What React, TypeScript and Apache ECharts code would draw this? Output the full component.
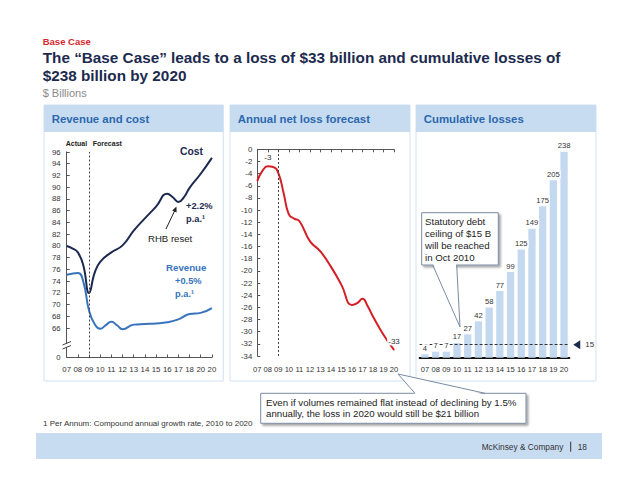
import React, { useEffect, useRef } from 'react';
import * as echarts from 'echarts';

const FONT = '"Liberation Sans", Arial, Helvetica, sans-serif';

// ---- Data ----
const yearLabels = ['07', '08', '09', '10', '11', '12', '13', '14', '15', '16', '17', '18', '19', '20'];
const leftTickLabels = ['07', '08', '09', '10', '11', '12', '13', '14', '15', '16', '17', '18', '20', '20'];
const leftYTicks = [61, 66, 68, 70, 72, 74, 76, 78, 80, 82, 84, 86, 88, 90, 92, 94, 96];

const costYears = [2007, 2007.5, 2008, 2008.5, 2009, 2009.5, 2010, 2011, 2012, 2013, 2014, 2015, 2016, 2016.5, 2017, 2017.5, 2018, 2019, 2020];
const costValues = [80, 79.6, 78.9, 76.6, 72, 75.4, 77.3, 78.9, 80.1, 82.6, 84.7, 86.7, 88.9, 88.3, 87.5, 88.3, 89.9, 92.3, 95];

const revenueYears = [2007, 2008, 2008.5, 2009, 2009.5, 2010, 2010.5, 2011, 2011.5, 2012, 2013, 2014, 2015, 2016, 2017, 2018, 2019, 2020];
const revenueValues = [75.1, 75.4, 73.8, 69.0, 66.7, 65.9, 66.5, 67.1, 66.5, 65.8, 66.6, 66.7, 66.8, 67.0, 67.5, 68.4, 68.6, 69.4];

const netLossYears = [2007, 2007.5, 2008, 2008.5, 2009, 2009.5, 2010, 2010.5, 2011, 2012, 2013, 2014, 2015, 2016, 2016.5, 2017, 2017.5, 2018, 2019, 2020];
const netLossValues = [-5.2, -3.5, -2.8, -2.9, -3.9, -7.2, -10.7, -11.4, -11.8, -15.1, -16.8, -19.3, -22.3, -25.6, -25.3, -24.6, -25.8, -27.5, -30.5, -33];
const netLossLabelYears = [2008, 2020];

const cumulativeLosses = [4, 7, 7, 17, 27, 42, 58, 77, 99, 125, 149, 175, 205, 238];
const debtCeiling = 15;

// ---- helpers ----
const txt = (text: string, x: number, y: number, size: number, color: string, weight: string = 'normal', align: string = 'left', extra: any = {}) => ({
  type: 'text',
  x,
  y,
  z: 50,
  style: {
    text,
    fill: color,
    fontSize: size,
    fontWeight: weight,
    fontFamily: FONT,
    align,
    textAlign: align,
    verticalAlign: 'middle',
    textVerticalAlign: 'middle',
    ...extra,
  },
});

const panels = [
  { x: 44, w: 179.3, title: 'Revenue and cost' },
  { x: 230, w: 180, title: 'Annual net loss forecast' },
  { x: 416, w: 180, title: 'Cumulative losses' },
];

const HEADER_BG = '#c8dcf1';
const HEADER_TEXT = '#2c68ae';
const NAVY = '#1d2a4f';
const BLUE = '#3874bd';
const RED = '#d42027';
const BOX_STROKE = '#7b8ba3';
const shadow = { shadowColor: 'rgba(0,0,0,0.35)', shadowOffsetX: 2, shadowOffsetY: 2, shadowBlur: 2 };

export default function App() {
  const ref = useRef<HTMLDivElement>(null);

  useEffect(() => {
    if (!ref.current) return;
    const chart = echarts.init(ref.current, undefined, { renderer: 'svg' });

    const graphics: any[] = [];
    panels.forEach((p) => {
      graphics.push({ type: 'rect', z: 0, shape: { x: p.x, y: 105, width: p.w, height: 276 }, style: { fill: '#fff', stroke: '#d3e2f1', lineWidth: 1 } });
      graphics.push({ type: 'rect', z: 0, shape: { x: p.x, y: 105, width: p.w, height: 27 }, style: { fill: HEADER_BG } });
      graphics.push(txt(p.title, p.x + 7.7, 119, 11.4, HEADER_TEXT, 'bold'));
    });

    // header texts
    graphics.push(txt('Base Case', 42.7, 41.7, 9.5, '#d9272e', 'bold'));
    graphics.push(txt('The \u201cBase Case\u201d leads to a loss of $33 billion and cumulative losses of', 42.7, 57.3, 15.3, NAVY, 'bold'));
    graphics.push(txt('$238 billion by 2020', 42.7, 75.7, 15.3, NAVY, 'bold'));
    graphics.push(txt('$ Billions', 42.7, 93.3, 11, '#8a8a8a'));

    // footer
    graphics.push({ type: 'rect', z: 0, shape: { x: 36, y: 433, width: 566, height: 26 }, style: { fill: HEADER_BG } });
    graphics.push(txt('McKinsey & Company', 563.3, 446.7, 8.3, '#333', 'normal', 'right'));
    graphics.push({ type: 'line', z: 50, shape: { x1: 570.7, y1: 441.7, x2: 570.7, y2: 451.7 }, style: { stroke: '#333', lineWidth: 1 } });
    graphics.push(txt('18', 577.7, 446.7, 8.3, '#333'));
    graphics.push(txt('1 Per Annum: Compound annual growth rate, 2010 to 2020', 43, 423.3, 8, '#333'));

    // left chart annotations
    graphics.push(txt('Actual', 65.7, 143, 7, '#222', 'bold'));
    graphics.push(txt('Forecast', 92.7, 143, 7, '#222', 'bold'));
    graphics.push(txt('Cost', 180, 151.5, 10.3, NAVY, 'bold'));
    graphics.push(txt('+2.2%', 186, 206, 9.3, NAVY, 'bold'));
    graphics.push(txt('p.a.\u00b9', 186, 219, 9.3, NAVY, 'bold'));
    graphics.push(txt('RHB reset', 148, 238, 9.6, '#222'));
    graphics.push({ type: 'line', z: 50, shape: { x1: 166, y1: 229, x2: 175, y2: 210 }, style: { stroke: '#222', lineWidth: 1 } });
    graphics.push({ type: 'polygon', z: 50, shape: { points: [[176.5, 206.5], [176.6, 212.6], [172.2, 210.5]] }, style: { fill: '#222' } });
    graphics.push(txt('Revenue', 166, 267, 9.7, BLUE, 'bold'));
    graphics.push(txt('+0.5%', 175, 281, 9.3, BLUE, 'bold'));
    graphics.push(txt('p.a.\u00b9', 175, 293.5, 9.3, BLUE, 'bold'));

    // axis break marks
    graphics.push({ type: 'rect', z: 40, shape: { x: 64, y: 344, width: 6, height: 3 }, style: { fill: '#fff' } });
    graphics.push({ type: 'line', z: 41, shape: { x1: 62.5, y1: 345, x2: 71, y2: 341.5 }, style: { stroke: '#444', lineWidth: 1 } });
    graphics.push({ type: 'line', z: 41, shape: { x1: 62.5, y1: 349, x2: 71, y2: 345.5 }, style: { stroke: '#444', lineWidth: 1 } });

    // statutory callout
    graphics.push({ type: 'rect', z: 100, shape: { x: 421.7, y: 212.7, width: 76.6, height: 52.3 }, style: { fill: '#fff', stroke: BOX_STROKE, lineWidth: 1, ...shadow } });
    graphics.push({ type: 'polygon', z: 101, shape: { points: [[433.2, 264], [460, 327], [456.2, 264]] }, style: { fill: '#fff' } });
    graphics.push({ type: 'polyline', z: 102, shape: { points: [[432.7, 265], [460, 327], [456.7, 265]] }, style: { stroke: BOX_STROKE, lineWidth: 1, fill: null } });
    graphics.push({
      type: 'text', z: 103, x: 425, y: 215.7,
      style: { text: 'Statutory debt\nceiling of $15 B\nwill be reached\nin Oct 2010', fill: '#222', fontSize: 9.7, fontFamily: FONT, lineHeight: 12, align: 'left', textAlign: 'left', verticalAlign: 'top', textVerticalAlign: 'top' },
    });

    // bottom callout
    graphics.push({ type: 'rect', z: 100, shape: { x: 260.7, y: 393.3, width: 265.3, height: 30 }, style: { fill: '#fff', stroke: BOX_STROKE, lineWidth: 1, ...shadow } });
    graphics.push({ type: 'polygon', z: 101, shape: { points: [[415.5, 394.5], [398, 374], [484.5, 394.5]] }, style: { fill: '#fff' } });
    graphics.push({ type: 'polyline', z: 102, shape: { points: [[415, 393.3], [398, 374], [485, 393.3]] }, style: { stroke: BOX_STROKE, lineWidth: 1, fill: null } });
    graphics.push({
      type: 'text', z: 103, x: 266, y: 397.3,
      style: { text: 'Even if volumes remained flat instead of declining by 1.5%\nannually, the loss in 2020 would still be $21 billion', fill: '#222', fontSize: 9.7, fontFamily: FONT, lineHeight: 10.8, align: 'left', textAlign: 'left', verticalAlign: 'top', textVerticalAlign: 'top' },
    });

    const axisGrey = '#555';
    const dashed = { color: '#444', type: [2, 2], width: 1 };

    const option: any = {
      animation: false,
      textStyle: { fontFamily: FONT },
      grid: [
        { left: 66.7, top: 152, width: 145.2, height: 205.5 },
        { left: 257.3, top: 149.3, width: 136.7, height: 206.7 },
        { left: 419.6, top: 151.7, width: 149.8, height: 206 },
      ],
      xAxis: [
        {
          gridIndex: 0, type: 'value', min: 2007, max: 2020, interval: 1,
          axisLine: { show: true, onZero: false, lineStyle: { color: axisGrey, width: 1 } },
          axisTick: { show: true, inside: true, length: 3, lineStyle: { color: axisGrey } },
          axisLabel: { fontSize: 7.8, color: '#333', margin: 8, formatter: (v: number) => leftTickLabels[Math.round(v - 2007)] ?? '' },
          splitLine: { show: false },
        },
        {
          gridIndex: 1, type: 'value', min: 2007, max: 2020, interval: 1, position: 'bottom',
          axisLine: { show: false, onZero: false },
          axisTick: { show: false },
          axisLabel: { fontSize: 7.6, color: '#333', margin: 9, formatter: (v: number) => yearLabels[Math.round(v - 2007)] ?? '' },
          splitLine: { show: false },
        },
        {
          gridIndex: 1, type: 'value', min: 2007, max: 2020, interval: 1, position: 'top',
          axisLine: { show: true, onZero: false, lineStyle: { color: axisGrey } },
          axisTick: { show: true, inside: true, length: 3, lineStyle: { color: axisGrey } },
          axisLabel: { show: false },
          splitLine: { show: false },
        },
        {
          gridIndex: 2, type: 'category', data: yearLabels,
          axisLine: { show: true, lineStyle: { color: '#111', width: 2 } },
          axisTick: { show: false },
          axisLabel: { fontSize: 7.6, color: '#333', margin: 8, interval: 0 },
        },
      ],
      yAxis: [
        {
          gridIndex: 0, type: 'value', min: 61, max: 96,
          axisLine: { show: true, lineStyle: { color: axisGrey } },
          axisTick: { show: true, inside: true, length: 3, customValues: leftYTicks, lineStyle: { color: axisGrey } },
          axisLabel: { customValues: leftYTicks, fontSize: 7.8, color: '#333', margin: 6, formatter: (v: number) => (v === 61 ? '0' : String(v)) },
          splitLine: { show: false },
        },
        {
          gridIndex: 1, type: 'value', min: -34, max: 0, interval: 2,
          axisLine: { show: true, onZero: false, lineStyle: { color: axisGrey } },
          axisTick: { show: true, inside: true, length: 3, lineStyle: { color: axisGrey } },
          axisLabel: { fontSize: 7.8, color: '#333', margin: 5 },
          splitLine: { show: false },
        },
        { gridIndex: 2, type: 'value', min: 0, max: 238, show: false },
      ],
      series: [
        {
          type: 'line', xAxisIndex: 0, yAxisIndex: 0, smooth: 0.5, showSymbol: false,
          data: costYears.map((y, i) => [y, costValues[i]]),
          lineStyle: { color: NAVY, width: 2 },
          markLine: { silent: true, symbol: ['none', 'none'], label: { show: false }, lineStyle: dashed, data: [{ xAxis: 2009 }] },
        },
        {
          type: 'line', xAxisIndex: 0, yAxisIndex: 0, smooth: 0.5, showSymbol: false,
          data: revenueYears.map((y, i) => [y, revenueValues[i]]),
          lineStyle: { color: BLUE, width: 2 },
        },
        {
          type: 'line', xAxisIndex: 1, yAxisIndex: 1, smooth: 0.5, symbol: 'circle', symbolSize: 1,
          itemStyle: { color: RED },
          lineStyle: { color: RED, width: 2 },
          data: netLossYears.map((y, i) => ({
            value: [y, netLossValues[i]],
            label: netLossLabelYears.includes(y)
              ? { show: true, position: 'top', distance: 4, fontSize: 8, color: '#333', backgroundColor: '#fff', padding: [0, 1], formatter: () => String(Math.round(netLossValues[i])) }
              : { show: false },
          })),
          markLine: { silent: true, symbol: ['none', 'none'], label: { show: false }, lineStyle: dashed, data: [{ xAxis: 2009 }] },
        },
        {
          type: 'bar', xAxisIndex: 3, yAxisIndex: 2, barWidth: 7.3, z: 2,
          data: cumulativeLosses,
          itemStyle: { color: '#c4d8f0' },
          markLine: {
            z: 3, silent: true, symbol: ['none', 'none'], label: { show: false },
            lineStyle: { color: '#333', type: [3, 2], width: 1 },
            data: [{ yAxis: debtCeiling }],
          },
          markPoint: {
            silent: true,
            data: [{
              coord: ['20', debtCeiling], symbol: 'triangle', symbolSize: [9, 7], symbolRotate: 90, symbolOffset: [12.7, 0],
              itemStyle: { color: NAVY },
              label: { show: true, position: 'right', distance: 5, formatter: String(debtCeiling), color: '#333', fontSize: 8 },
            }],
          },
        },
        {
          type: 'bar', xAxisIndex: 3, yAxisIndex: 2, barWidth: 7.3, barGap: '-100%', z: 4,
          data: cumulativeLosses,
          itemStyle: { color: 'rgba(0,0,0,0)' },
          label: { show: true, position: 'top', distance: 2, fontSize: 7.6, color: '#333', backgroundColor: '#fff', padding: [0, 1] },
        },
      ],
      graphic: { elements: graphics },
    };

    chart.setOption(option);
    return () => chart.dispose();
  }, []);

  return <div ref={ref} style={{ position: 'absolute', left: 0, top: 0, width: 638, height: 493 }} />;
}
